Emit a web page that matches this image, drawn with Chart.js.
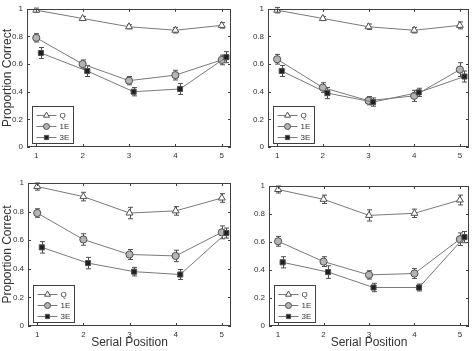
<!DOCTYPE html>
<html>
<head>
<meta charset="utf-8">
<script src="https://cdn.jsdelivr.net/npm/chart.js@4.4.1/dist/chart.umd.min.js"></script>
<style>
body { margin: 0; background: #fff; width: 474px; height: 351px; overflow: hidden; position: relative; }
canvas { position: absolute; }
</style>
</head>
<body>
<canvas id="tl" width="237" height="168" style="left:0;top:0"></canvas>
<canvas id="tr" width="237" height="168" style="left:237px;top:0"></canvas>
<canvas id="bl" width="237" height="181" style="left:0;top:170px"></canvas>
<canvas id="br" width="237" height="181" style="left:237px;top:170px"></canvas>
<script>
const positions = [1, 2, 3, 4, 5];
const positions3E = [1.1, 2.1, 3.1, 4.1, 5.1];
const seriesNames = ["Q", "1E", "3E"];
const yTicks = [0, 0.2, 0.4, 0.6, 0.8, 1];

// top left
const qTL = [0.99, 0.93, 0.87, 0.845, 0.88];
const e1TL = [0.79, 0.60, 0.48, 0.52, 0.63];
const e3TL = [0.68, 0.55, 0.40, 0.42, 0.65];
const qErrTL = [0.015, 0.015, 0.015, 0.02, 0.02];
const e1ErrTL = [0.03, 0.03, 0.03, 0.035, 0.035];
const e3ErrTL = [0.04, 0.04, 0.03, 0.04, 0.04];

// top right
const qTR = [0.99, 0.93, 0.87, 0.845, 0.88];
const e1TR = [0.635, 0.43, 0.335, 0.37, 0.56];
const e3TR = [0.55, 0.39, 0.325, 0.395, 0.51];
const qErrTR = [0.02, 0.015, 0.02, 0.02, 0.025];
const e1ErrTR = [0.035, 0.035, 0.03, 0.04, 0.05];
const e3ErrTR = [0.04, 0.04, 0.03, 0.03, 0.04];

// bottom left
const qBL = [0.975, 0.905, 0.79, 0.805, 0.895];
const e1BL = [0.79, 0.605, 0.50, 0.49, 0.655];
const e3BL = [0.55, 0.44, 0.38, 0.36, 0.65];
const qErrBL = [0.025, 0.03, 0.04, 0.03, 0.03];
const e1ErrBL = [0.03, 0.04, 0.035, 0.04, 0.045];
const e3ErrBL = [0.04, 0.04, 0.03, 0.035, 0.035];

// bottom right
const qBR = [0.975, 0.905, 0.79, 0.805, 0.90];
const e1BR = [0.605, 0.46, 0.365, 0.375, 0.62];
const e3BR = [0.455, 0.385, 0.275, 0.275, 0.635];
const qErrBR = [0.025, 0.03, 0.04, 0.03, 0.035];
const e1ErrBR = [0.035, 0.035, 0.03, 0.035, 0.045];
const e3ErrBR = [0.04, 0.045, 0.03, 0.025, 0.04];

const FONT = "'Liberation Sans', Arial, sans-serif";
const lineColor = "#7a7a7a";
const edgeColor = "#505050";
const markerStyles = [
    { pointStyle: "triangle", fill: "#ffffff", radius: 4 },
    { pointStyle: "circle", fill: "#b4b4b4", radius: 3.6 },
    { pointStyle: "rect", fill: "#202020", radius: 3.6 }
];

function toPoints(xs, ys) {
    return xs.map((x, i) => ({ x: x, y: ys[i] }));
}

// error bars, frame, inward ticks and the legend box
const extrasPlugin = {
    id: "extras",
    beforeDatasetsDraw(chart) {
        const ctx = chart.ctx;
        const xs = chart.scales.x, ys = chart.scales.y;
        ctx.save();
        ctx.strokeStyle = edgeColor;
        ctx.lineWidth = 1;
        chart.data.datasets.forEach(ds => {
            ds.data.forEach((p, i) => {
                const e = ds.errors[i];
                const px = Math.round(xs.getPixelForValue(p.x)) + 0.5;
                const y1 = ys.getPixelForValue(p.y - e);
                const y2 = ys.getPixelForValue(p.y + e);
                ctx.beginPath();
                ctx.moveTo(px, y1); ctx.lineTo(px, y2);
                ctx.moveTo(px - 2.5, y1); ctx.lineTo(px + 2.5, y1);
                ctx.moveTo(px - 2.5, y2); ctx.lineTo(px + 2.5, y2);
                ctx.stroke();
            });
        });
        ctx.restore();
    },
    afterDatasetsDraw(chart) {
        const ctx = chart.ctx;
        const a = chart.chartArea;
        const xs = chart.scales.x, ys = chart.scales.y;
        ctx.save();
        ctx.strokeStyle = "#404040";
        ctx.lineWidth = 1;
        ctx.strokeRect(Math.round(a.left) + 0.5, Math.round(a.top) + 0.5,
            Math.round(a.right - a.left) - 1, Math.round(a.bottom - a.top) - 1);
        ctx.beginPath();
        positions.forEach(v => {
            const px = Math.round(xs.getPixelForValue(v)) + 0.5;
            ctx.moveTo(px, a.bottom); ctx.lineTo(px, a.bottom - 3);
            ctx.moveTo(px, a.top); ctx.lineTo(px, a.top + 3);
        });
        yTicks.forEach(v => {
            const py = Math.round(ys.getPixelForValue(v)) + 0.5;
            ctx.moveTo(a.left, py); ctx.lineTo(a.left + 3, py);
            ctx.moveTo(a.right, py); ctx.lineTo(a.right - 3, py);
        });
        ctx.stroke();

        // legend
        const bx = Math.round(a.left) + 5.5, bw = 41, bh = 37;
        const by = Math.round(a.bottom) - 3.5 - bh;
        ctx.fillStyle = "#fff";
        ctx.fillRect(bx, by, bw, bh);
        ctx.strokeStyle = "#404040";
        ctx.strokeRect(bx, by, bw, bh);
        ctx.font = "8px " + FONT;
        ctx.textBaseline = "middle";
        seriesNames.forEach((name, i) => {
            const ly = by + 9 + i * 11;
            ctx.strokeStyle = lineColor;
            ctx.beginPath();
            ctx.moveTo(bx + 4, ly); ctx.lineTo(bx + 24, ly);
            ctx.stroke();
            const m = markerStyles[i];
            ctx.fillStyle = m.fill;
            ctx.strokeStyle = edgeColor;
            Chart.helpers.drawPoint(ctx, {
                pointStyle: m.pointStyle, radius: m.radius - 0.6, rotation: 0, borderWidth: 1
            }, bx + 14, ly);
            ctx.fillStyle = "#333";
            ctx.fillText(name, bx + 27, ly + 0.5);
        });
        ctx.restore();
    }
};

function makePanel(id, q, e1, e3, qErr, e1Err, e3Err, box) {
    const mk = (i, xs, ys, errs) => ({
        label: seriesNames[i],
        data: toPoints(xs, ys),
        errors: errs,
        borderColor: lineColor,
        borderWidth: 1,
        tension: 0,
        pointStyle: markerStyles[i].pointStyle,
        pointRadius: markerStyles[i].radius,
        pointBackgroundColor: markerStyles[i].fill,
        pointBorderColor: edgeColor,
        pointBorderWidth: 1
    });
    new Chart(document.getElementById(id), {
        type: "line",
        data: {
            datasets: [
                mk(2, positions3E, e3, e3Err),
                mk(1, positions, e1, e1Err),
                mk(0, positions, q, qErr)
            ]
        },
        options: {
            responsive: false,
            animation: false,
            events: [],
            layout: { padding: { top: box.top, right: box.right, left: 0, bottom: 0 } },
            plugins: { legend: { display: false }, tooltip: { enabled: false } },
            scales: {
                x: {
                    type: "linear",
                    min: 0.8, max: 5.2,
                    afterBuildTicks: s => { s.ticks = positions.map(v => ({ value: v })); },
                    afterFit: s => { s.height = box.xh; },
                    grid: { display: false, drawTicks: false },
                    border: { display: false },
                    ticks: { font: { size: 8, family: FONT }, color: "#333", padding: 4, maxRotation: 0 },
                    title: {
                        display: box.xTitle, text: "Serial Position",
                        font: { size: 12, family: FONT }, color: "#333", padding: { top: 0, bottom: 1 }
                    }
                },
                y: {
                    min: 0, max: 1,
                    afterBuildTicks: s => { s.ticks = yTicks.map(v => ({ value: v })); },
                    afterFit: s => { s.width = box.yw; },
                    grid: { display: false, drawTicks: false },
                    border: { display: false },
                    ticks: {
                        font: { size: 8, family: FONT }, color: "#333", padding: 4,
                        callback: v => String(Math.round(v * 10) / 10)
                    },
                    title: {
                        display: box.yTitle, text: "Proportion Correct",
                        font: { size: 12, family: FONT }, color: "#333", padding: { top: 0, bottom: 0 }
                    }
                }
            }
        },
        plugins: [extrasPlugin]
    });
}

makePanel("tl", qTL, e1TL, e3TL, qErrTL, e1ErrTL, e3ErrTL,
    { top: 3, right: 6, yw: 27, xh: 21, yTitle: true, xTitle: false });
makePanel("tr", qTR, e1TR, e3TR, qErrTR, e1ErrTR, e3ErrTR,
    { top: 4, right: 1, yw: 31, xh: 21, yTitle: false, xTitle: false });
makePanel("bl", qBL, e1BL, e3BL, qErrBL, e1ErrBL, e3ErrBL,
    { top: 13, right: 6, yw: 28, xh: 25, yTitle: true, xTitle: true });
makePanel("br", qBR, e1BR, e3BR, qErrBR, e1ErrBR, e3ErrBR,
    { top: 16, right: 1, yw: 32, xh: 25, yTitle: false, xTitle: true });
</script>
</body>
</html>
